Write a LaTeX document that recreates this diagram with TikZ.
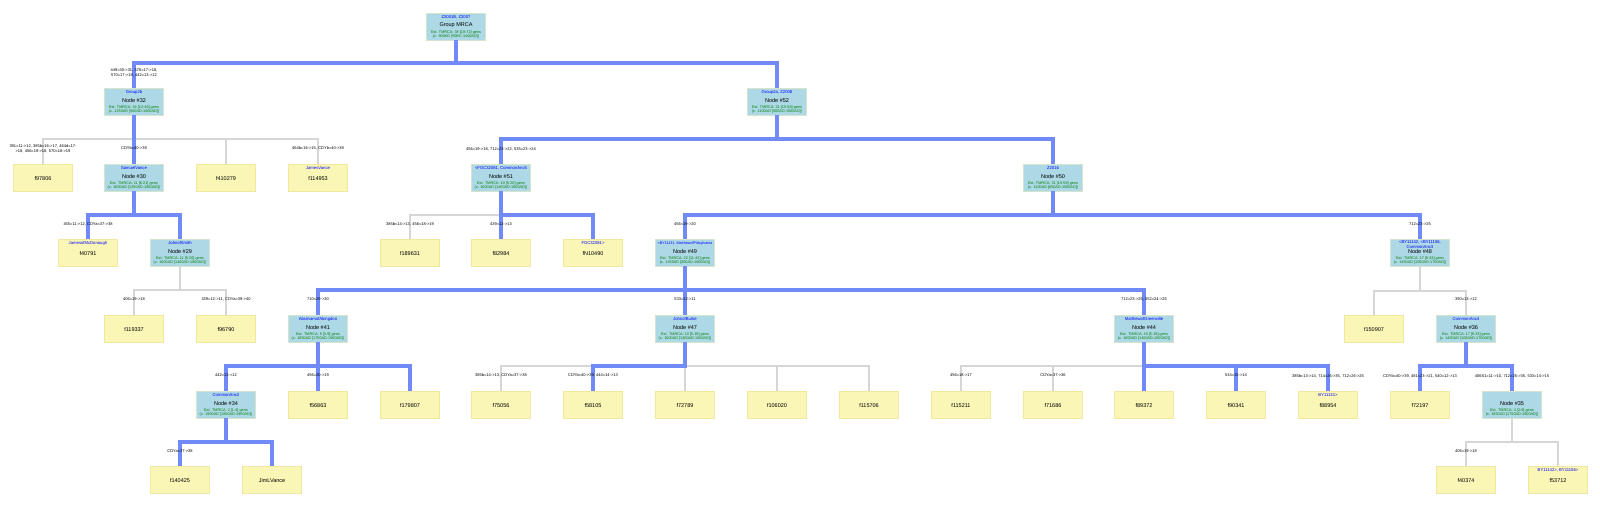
\documentclass[tikz,border=0pt]{standalone}
\usepackage{fontspec}
\setmainfont{Liberation Sans}
\definecolor{bline}{RGB}{112,138,248}
\definecolor{gline}{RGB}{214,214,214}
\definecolor{bfill}{RGB}{173,216,230}
\definecolor{bdraw}{RGB}{215,228,205}
\definecolor{yfill}{RGB}{250,246,182}
\definecolor{ydraw}{RGB}{240,232,160}
\definecolor{egreen}{RGB}{0,128,0}
\tikzset{
 bbox/.style={draw=bdraw,fill=bfill,line width=0.8pt,minimum width=59pt,minimum height=27pt,inner sep=0pt},
 ybox/.style={draw=ydraw,fill=yfill,line width=0.8pt,minimum width=59pt,minimum height=27pt,inner sep=0pt},
 tl/.style={text=blue,font=\fontsize{4.2}{4.8}\selectfont,inner sep=0pt,align=center},
 nl/.style={text=black,font=\fontsize{5.5}{6}\selectfont,inner sep=0pt},
 el/.style={text=egreen,font=\fontsize{3.8}{4.2}\selectfont,inner sep=0pt,align=center},
 lab/.style={text=black,font=\fontsize{4}{4.8}\selectfont,inner sep=0pt,align=center,text width=80pt},
 be/.style={draw=bline,line width=3.2pt},
 ge/.style={draw=gline,line width=1.3pt},
}
\newcommand\bn[7]{%
 \node[bbox] (#1) at (#2,-#3) {};
 \node[tl] at ([yshift=-4.5]#1.north) {#4};
 \node[nl] at ([yshift=-12.5]#1.north) {#5};
 \node[el] at ([yshift=-22]#1.north) {#6\\#7};}
\newcommand\yn[5]{%
 \node[ybox] (#1) at (#2,-#3) {};
 \node[nl] at ([yshift=-1]#1.center) {#4};
 \node[tl] at ([yshift=-4.5]#1.north) {#5};}
\newcommand\edg[4]{\draw[#1] (#2.south) -- (#2.south |- 0,-#4) -| (#3.north);}
\newcommand\lb[3]{\node[lab] at (#1,-#2) {#3};}
\begin{document}
\begin{tikzpicture}[x=1pt,y=1pt]
\useasboundingbox (0,0) rectangle (1600,-506);
% blue nodes
\bn{root}{456}{26.5}{Z2001B, Z2007}{Group MRCA}{Est. TMRCA: 38 [18-72] gens}{(c. 900AD [50BC-1400AD])}
\bn{n32}{134}{101.5}{Group2b}{Node \#32}{Est. TMRCA: 24 [12-46] gens}{(c. 1250AD [600AD-1600AD])}
\bn{n52}{777}{101.5}{Group2a, Z2008}{Node \#52}{Est. TMRCA: 31 [15-58] gens}{(c. 1100AD [500AD-1500AD])}
\bn{n30}{134}{177.5}{SamuelVance}{Node \#30}{Est. TMRCA: 11 [6-21] gens}{(c. 1600AD [1350AD-1800AD])}
\bn{n51}{501}{177.5}{<FGC32081, CommonAnc5}{Node \#51}{Est. TMRCA: 10 [5-20] gens}{(c. 1600AD [1400AD-1800AD])}
\bn{n50}{1053}{177.5}{Z2016}{Node \#50}{Est. TMRCA: 31 [15-58] gens}{(c. 1100AD [650AD-1500AD])}
\bn{n29}{180}{252.5}{JohnofSmith}{Node \#29}{Est. TMRCA: 11 [5-20] gens}{(c. 1600AD [1400AD-1800AD])}
\bn{n49}{685}{252.5}{\fontsize{3.7}{4}\selectfont<BY11131, MatthewofPittsylvania}{Node \#49}{Est. TMRCA: 22 [11-42] gens}{(c. 1350AD [800AD-1600AD])}
\node[bbox] (n48) at (1420,-252.5) {};
\node[tl] at ([yshift=-6]n48.north) {<BY11142, <BY11156,\\CommonAnc3};
\node[nl] at ([yshift=-13]n48.north) {Node \#48};
\node[el] at ([yshift=-22]n48.north) {Est. TMRCA: 17 [8-33] gens\\(c. 1450AD [1050AD-1700AD])};
\bn{n41}{318}{328.5}{AbrahamofAbingdon}{Node \#41}{Est. TMRCA: 5 [3-9] gens}{(c. 1800AD [1700AD-1900AD])}
\bn{n47}{685}{328.5}{JohnofBurke}{Node \#47}{Est. TMRCA: 10 [5-18] gens}{(c. 1600AD [1400AD-1800AD])}
\bn{n44}{1144}{328.5}{MatthewofGreenville}{Node \#44}{Est. TMRCA: 10 [5-18] gens}{(c. 1600AD [1400AD-1800AD])}
\bn{n36}{1466}{328.5}{CommonAnc4}{Node \#36}{Est. TMRCA: 17 [8-33] gens}{(c. 1450AD [1050AD-1700AD])}
\bn{n34}{226}{404.5}{CommonAnc2}{Node \#34}{Est. TMRCA: 2 [1-4] gens}{(c. 1900AD [1850AD-1950AD])}
\bn{n35}{1512}{404.5}{}{Node \#35}{Est. TMRCA: 4 [2-8] gens}{(c. 1850AD [1750AD-1900AD])}
% leaves
\yn{f97806}{43}{177.5}{f97806}{}
\yn{f410279}{226}{177.5}{f410279}{}
\yn{f114953}{318}{177.5}{f114953}{JamesVance}
\yn{f40791}{88}{252.5}{f40791}{JamesofMcDonough}
\yn{f189631}{410}{252.5}{f189631}{}
\yn{f82984}{501}{252.5}{f82984}{}
\yn{fN10490}{593}{252.5}{fN10490}{FGC32081>}
\yn{f119337}{134}{328.5}{f119337}{}
\yn{f96790}{226}{328.5}{f96790}{}
\yn{f150907}{1374}{328.5}{f150907}{}
\yn{f56863}{318}{404.5}{f56863}{}
\yn{f179807}{410}{404.5}{f179807}{}
\yn{f75056}{501}{404.5}{f75056}{}
\yn{f58105}{593}{404.5}{f58105}{}
\yn{f72789}{685}{404.5}{f72789}{}
\yn{f106020}{777}{404.5}{f106020}{}
\yn{f115706}{869}{404.5}{f115706}{}
\yn{f115211}{961}{404.5}{f115211}{}
\yn{f71686}{1053}{404.5}{f71686}{}
\yn{f89372}{1144}{404.5}{f89372}{}
\yn{f90341}{1236}{404.5}{f90341}{}
\yn{f88954}{1328}{404.5}{f88954}{BY11131>}
\yn{f72197}{1420}{404.5}{f72197}{}
\yn{f140425}{180}{479.5}{f140425}{}
\yn{jlv}{272}{479.5}{JimLVance}{}
\yn{f40374}{1466}{479.5}{f40374}{}
\yn{f53712}{1558}{479.5}{f53712}{BY11142>, BY11156>}
% gray edges
\edg{ge}{n32}{f97806}{139}
\edg{ge}{n32}{f410279}{139}
\edg{ge}{n32}{f114953}{139}
\edg{ge}{n29}{f119337}{290}
\edg{ge}{n29}{f96790}{290}
\edg{ge}{n51}{f189631}{215}
\edg{ge}{n47}{f75056}{366}
\edg{ge}{n47}{f72789}{366}
\edg{ge}{n47}{f106020}{366}
\edg{ge}{n47}{f115706}{366}
\edg{ge}{n44}{f115211}{366}
\edg{ge}{n44}{f71686}{366}
\edg{ge}{n48}{f150907}{291}
\edg{ge}{n48}{n36}{291}
\edg{ge}{n35}{f40374}{442}
\edg{ge}{n35}{f53712}{442}
% blue edges
\edg{be}{root}{n32}{63}
\edg{be}{root}{n52}{63}
\edg{be}{n32}{n30}{139}
\edg{be}{n30}{f40791}{215}
\edg{be}{n30}{n29}{215}
\edg{be}{n52}{n51}{139}
\edg{be}{n52}{n50}{139}
\edg{be}{n51}{f82984}{215}
\edg{be}{n51}{fN10490}{215}
\edg{be}{n50}{n49}{215}
\edg{be}{n50}{n48}{215}
\edg{be}{n49}{n41}{290}
\edg{be}{n49}{n47}{290}
\edg{be}{n49}{n44}{290}
\edg{be}{n41}{n34}{366}
\edg{be}{n41}{f56863}{366}
\edg{be}{n41}{f179807}{366}
\edg{be}{n34}{f140425}{442}
\edg{be}{n34}{jlv}{442}
\edg{be}{n47}{f58105}{366}
\edg{be}{n44}{f89372}{366}
\edg{be}{n44}{f90341}{366}
\edg{be}{n44}{f88954}{366}
\edg{be}{n36}{f72197}{366}
\edg{be}{n36}{n35}{366}
% labels
\lb{134}{73}{449=30->31, 576=17->18, 570=17->18, 442=13->12}
\lb{43}{149}{391=11->12, 385b=16->17, 464d=17->18, 456=19->18, 570=18->19}
\lb{134}{148}{CDYb=40->39}
\lb{318}{148}{464b=16->15, CDYb=40->39}
\lb{501}{149}{456=19->18, 712=23->22, 535=23->24}
\lb{88}{224}{455=11->12, CDYa=37->38}
\lb{410}{224}{385b=14->13, 456=18->19}
\lb{501}{224}{439=12->13}
\lb{685}{224}{456=19->20}
\lb{1420}{224}{712=23->25}
\lb{134}{299}{406=19->18}
\lb{226}{299}{439=12->11, CDYa=39->40}
\lb{318}{299}{710=29->30}
\lb{685}{299}{533=12->11}
\lb{1144}{299}{712=23->25, 552=24->25}
\lb{1466}{299}{390=13->12}
\lb{226}{375}{442=13->12}
\lb{318}{375}{456=20->19}
\lb{501}{375}{385b=14->13, CDYa=37->38}
\lb{593}{375}{CDYb=40->39, 444=14->13}
\lb{961}{375}{456=18->17}
\lb{1053}{375}{CDYa=37->36}
\lb{1236}{375}{534=15->14}
\lb{1328}{376}{385b=13->14, 714=26->35, 712=26->25}
\lb{1420}{376}{CDYb=40->39, 481=23->21, 540=12->13}
\lb{1512}{376}{406S1=11->10, 712=25->35, 533=14->15}
\lb{180}{451}{CDYa=37->38}
\lb{1466}{451}{406=19->18}
\end{tikzpicture}
\end{document}
